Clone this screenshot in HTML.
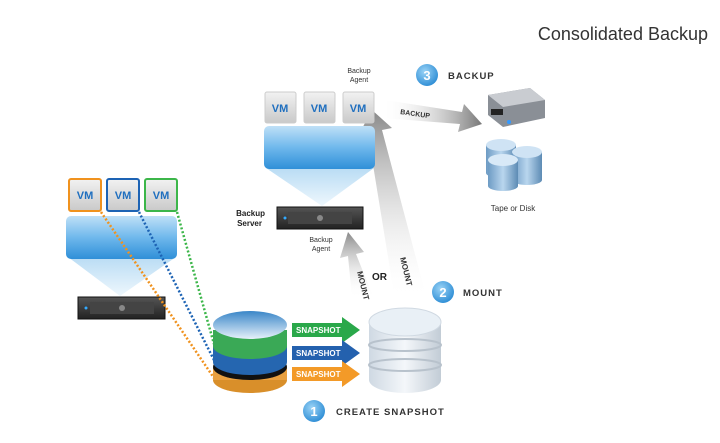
<!DOCTYPE html>
<html><head><meta charset="utf-8"><style>
body{margin:0;background:#fff}
text{font-family:"Liberation Sans",sans-serif}
</style></head><body>
<svg width="720" height="438" viewBox="0 0 720 438" xmlns="http://www.w3.org/2000/svg">
<defs>
<linearGradient id="host" x1="0" y1="0" x2="0" y2="1"><stop offset="0" stop-color="#bfe0f7"/><stop offset="0.5" stop-color="#6fb8ec"/><stop offset="1" stop-color="#2f8fd8"/></linearGradient>
<linearGradient id="tri" x1="0" y1="0" x2="0" y2="1"><stop offset="0" stop-color="#b9dcf4"/><stop offset="1" stop-color="#eef7fd"/></linearGradient>
<linearGradient id="vm" x1="0" y1="0" x2="0" y2="1"><stop offset="0" stop-color="#f2f2f2"/><stop offset="1" stop-color="#c9c9c9"/></linearGradient>
<linearGradient id="srv" x1="0" y1="0" x2="0" y2="1"><stop offset="0" stop-color="#555"/><stop offset="1" stop-color="#222"/></linearGradient>
<linearGradient id="mnt" x1="0" y1="1" x2="0" y2="0"><stop offset="0" stop-color="#fff" stop-opacity="0"/><stop offset="1" stop-color="#888"/></linearGradient>
<linearGradient id="bk" x1="0" y1="0" x2="1" y2="0"><stop offset="0" stop-color="#fff" stop-opacity="0"/><stop offset="1" stop-color="#777"/></linearGradient>
<linearGradient id="dbtop" x1="0" y1="0" x2="0" y2="1"><stop offset="0" stop-color="#3a86c8"/><stop offset="1" stop-color="#e6f1fa"/></linearGradient>
<linearGradient id="wdb" x1="0" y1="0" x2="1" y2="0"><stop offset="0" stop-color="#cfd9e3"/><stop offset="0.5" stop-color="#f4f7fa"/><stop offset="1" stop-color="#c2ccd6"/></linearGradient>
<linearGradient id="bdisk" x1="0" y1="0" x2="1" y2="0"><stop offset="0" stop-color="#6d9bc4"/><stop offset="0.5" stop-color="#b9d6ee"/><stop offset="1" stop-color="#5d8bb4"/></linearGradient>
<radialGradient id="num" cx="0.4" cy="0.35" r="0.7"><stop offset="0" stop-color="#9ad3f6"/><stop offset="1" stop-color="#2a8bd4"/></radialGradient>
</defs>

<text x="708" y="40" font-size="18" fill="#333" text-anchor="end">Consolidated Backup</text>

<polygon points="395,300 425,292 382,130 392,128 372,110 358,136 368,134" fill="url(#mnt)"/>
<polygon points="352,298 372,294 356,254 364,252 348,232 340,258 348,256" fill="url(#mnt)"/>
<text font-size="8" font-weight="bold" fill="#333" transform="translate(400,258) rotate(76)">MOUNT</text>
<text font-size="8" font-weight="bold" fill="#333" transform="translate(357,272) rotate(76)">MOUNT</text>
<text x="372" y="280" font-size="10" font-weight="bold" fill="#222">OR</text>
<polygon points="385,100 462,112 464,104 482,124 458,132 460,124 382,118" fill="url(#bk)"/>
<text font-size="7" font-weight="bold" fill="#333" transform="translate(400,114) rotate(8)">BACKUP</text>

<text x="359" y="73" font-size="7" fill="#333" text-anchor="middle">Backup</text>
<text x="359" y="82" font-size="7" fill="#333" text-anchor="middle">Agent</text>
<g font-size="11" font-weight="bold" fill="#1f6fbf" text-anchor="middle">
<rect x="265" y="92" width="31" height="31" rx="2" fill="url(#vm)" stroke="#ccc"/><text x="280" y="112">VM</text>
<rect x="304" y="92" width="31" height="31" rx="2" fill="url(#vm)" stroke="#ccc"/><text x="319" y="112">VM</text>
<rect x="343" y="92" width="31" height="31" rx="2" fill="url(#vm)" stroke="#ccc"/><text x="358" y="112">VM</text>
</g>
<polygon points="266,168 374,168 322,206" fill="url(#tri)"/>
<rect x="264" y="126" width="111" height="43" rx="5" fill="url(#host)"/>
<rect x="277" y="207" width="86" height="22" fill="url(#srv)" stroke="#111"/>
<rect x="288" y="212" width="64" height="12" fill="#444"/><circle cx="320" cy="218" r="3" fill="#888"/><circle cx="285" cy="218" r="1.5" fill="#3af"/>
<text x="265" y="216" font-size="8" font-weight="bold" fill="#222" text-anchor="end">Backup</text>
<text x="262" y="226" font-size="8" font-weight="bold" fill="#222" text-anchor="end">Server</text>
<text x="321" y="242" font-size="7" fill="#333" text-anchor="middle">Backup</text>
<text x="321" y="251" font-size="7" fill="#333" text-anchor="middle">Agent</text>

<polygon points="68,257 176,257 120,296" fill="url(#tri)"/>
<rect x="66" y="216" width="111" height="43" rx="5" fill="url(#host)"/>
<g font-size="11" font-weight="bold" fill="#1f6fbf" text-anchor="middle">
<rect x="69" y="179" width="32" height="32" rx="2" fill="url(#vm)" stroke="#f0921e" stroke-width="2"/><text x="85" y="199">VM</text>
<rect x="107" y="179" width="32" height="32" rx="2" fill="url(#vm)" stroke="#1d63b4" stroke-width="2"/><text x="123" y="199">VM</text>
<rect x="145" y="179" width="32" height="32" rx="2" fill="url(#vm)" stroke="#3cb64a" stroke-width="2"/><text x="161" y="199">VM</text>
</g>
<rect x="78" y="297" width="87" height="22" fill="url(#srv)" stroke="#111"/>
<rect x="90" y="302" width="64" height="12" fill="#444"/><circle cx="122" cy="308" r="3" fill="#888"/><circle cx="86" cy="308" r="1.5" fill="#3af"/>
<g stroke-width="2.5" stroke-dasharray="2,2" fill="none">
<line x1="101" y1="212" x2="214" y2="378" stroke="#f0921e"/>
<line x1="139" y1="212" x2="214" y2="360" stroke="#1d63b4"/>
<line x1="177" y1="212" x2="214" y2="344" stroke="#3cb64a"/>
</g>

<!-- left db -->
<ellipse cx="250" cy="380" rx="37" ry="13" fill="#d98f2a"/>
<rect x="213" y="368" width="74" height="12" fill="#e8a040"/>
<ellipse cx="250" cy="367" rx="37" ry="13" fill="#111"/>
<ellipse cx="250" cy="362" rx="37" ry="13" fill="#2566b0"/>
<rect x="213" y="346" width="74" height="16" fill="#2566b0"/>
<ellipse cx="250" cy="346" rx="37" ry="13" fill="#3aa956"/>
<rect x="213" y="330" width="74" height="16" fill="#3aa956"/>
<ellipse cx="250" cy="325" rx="37" ry="14" fill="url(#dbtop)"/>

<g font-size="8" font-weight="bold" fill="#fff">
<polygon points="292,323 342,323 342,317 360,330 342,343 342,337 292,337" fill="#2aa84a"/><text x="296" y="333">SNAPSHOT</text>
<polygon points="292,346 342,346 342,340 360,353 342,366 342,360 292,360" fill="#2461ae"/><text x="296" y="356">SNAPSHOT</text>
<polygon points="292,367 342,367 342,361 360,374 342,387 342,381 292,381" fill="#f39a28"/><text x="296" y="377">SNAPSHOT</text>
</g>

<rect x="369" y="322" width="72" height="58" fill="url(#wdb)"/>
<ellipse cx="405" cy="380" rx="36" ry="13" fill="url(#wdb)"/>
<ellipse cx="405" cy="345" rx="36" ry="6" fill="none" stroke="#b8c2cc" stroke-width="2"/>
<ellipse cx="405" cy="365" rx="36" ry="6" fill="none" stroke="#b8c2cc" stroke-width="2"/>
<ellipse cx="405" cy="322" rx="36" ry="14" fill="#e9f0f6" stroke="#d0d9e2"/>

<polygon points="488,95 530,88 545,100 545,118 503,127 488,115" fill="#8a8f96"/>
<polygon points="488,95 530,88 545,100 503,107" fill="#c9ccd1"/>
<rect x="491" y="109" width="12" height="6" fill="#222"/><circle cx="509" cy="122" r="2" fill="#39f"/>
<g>
<rect x="486" y="145" width="30" height="28" fill="url(#bdisk)"/><ellipse cx="501" cy="173" rx="15" ry="5" fill="url(#bdisk)"/><ellipse cx="501" cy="145" rx="15" ry="6" fill="#cfe3f4"/>
<rect x="512" y="152" width="30" height="28" fill="url(#bdisk)"/><ellipse cx="527" cy="180" rx="15" ry="5" fill="url(#bdisk)"/><ellipse cx="527" cy="152" rx="15" ry="6" fill="#cfe3f4"/>
<rect x="488" y="160" width="30" height="26" fill="url(#bdisk)"/><ellipse cx="503" cy="186" rx="15" ry="5" fill="url(#bdisk)"/><ellipse cx="503" cy="160" rx="15" ry="6" fill="#d8e9f7"/>
</g>
<text x="513" y="211" font-size="8" fill="#333" text-anchor="middle">Tape or Disk</text>

<g font-size="13" font-weight="bold" fill="#fff" text-anchor="middle">
<circle cx="314" cy="411" r="11" fill="url(#num)"/><text x="314" y="416">1</text>
<circle cx="443" cy="292" r="11" fill="url(#num)"/><text x="443" y="297">2</text>
<circle cx="427" cy="75" r="11" fill="url(#num)"/><text x="427" y="80">3</text>
</g>
<g font-size="9.5" font-weight="bold" fill="#333" letter-spacing="1">
<text x="336" y="415">CREATE SNAPSHOT</text>
<text x="463" y="296">MOUNT</text>
<text x="448" y="79">BACKUP</text>
</g>
</svg>
</body></html>
